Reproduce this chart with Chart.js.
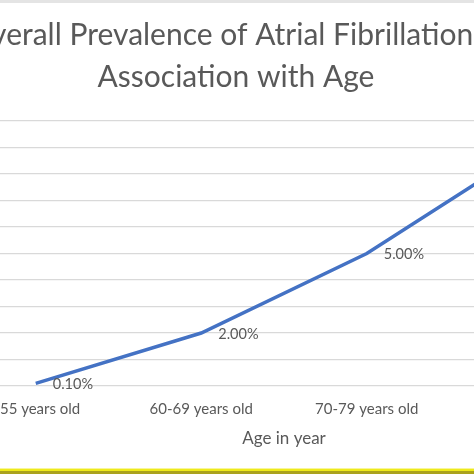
<!DOCTYPE html>
<html>
<head>
<meta charset="utf-8">
<script src="https://cdn.jsdelivr.net/npm/chart.js@4/dist/chart.umd.min.js"></script>
<style>
  html, body { margin: 0; padding: 0; background: #fff; overflow: hidden; }
  #wrap { position: relative; width: 474px; height: 474px; overflow: hidden; }
  #afChart { position: absolute; left: -143px; top: 0; }
  .topband { position: absolute; left: 0; top: 0; width: 474px; height: 3px; background: #e4e4e4; }
  .bot1 { position: absolute; left: 0; top: 468px; width: 474px; height: 1px; background: #f7f59a; }
  .bot2 { position: absolute; left: 0; top: 469px; width: 474px; height: 2px; background: #eeea1c; }
  .bot3 { position: absolute; left: 0; top: 471px; width: 474px; height: 3px; background: #aaa21e; }
</style>
</head>
<body>
<div id="wrap">
  <canvas id="afChart" width="768" height="474"></canvas>
  <div class="topband"></div>
  <div class="bot1"></div><div class="bot2"></div><div class="bot3"></div>
</div>
<script>
// --- datos del gráfico ---
const ageGroups = ['<55 years old', '60-69 years old', '70-79 years old', '\u226580 years old'];
const prevalence = [0.1, 2.0, 5.0, 9.0];
const yTicks = [0, 1, 2, 3, 4, 5, 6, 7, 8, 9, 10];

const chartTitle = ['Overall Prevalence of Atrial Fibrillation in', 'Association with Age'];
const xTitle = 'Age in year';

const textGrey = '#595959';
const FONT = 'Lato';

// etiquetas de datos a la derecha de cada punto
const dataLabels = {
    id: 'dataLabels',
    afterDatasetsDraw(chart) {
        const ctx = chart.ctx;
        const meta = chart.getDatasetMeta(0);
        ctx.save();
        ctx.font = '14.5px ' + FONT;
        ctx.fillStyle = textGrey;
        ctx.textAlign = 'left';
        ctx.textBaseline = 'middle';
        meta.data.forEach((pt, i) => {
            ctx.fillText(prevalence[i].toFixed(2) + '%', pt.x + 17, pt.y + 1);
        });
        ctx.restore();
    }
};

Chart.defaults.font.family = FONT;
Chart.defaults.color = textGrey;

new Chart(document.getElementById('afChart').getContext('2d'), {
    type: 'line',
    data: {
        labels: ageGroups,
        datasets: [{
            data: prevalence,
            borderColor: '#4472C4',
            borderWidth: 3.5,
            pointRadius: 0,
            tension: 0,
            fill: false
        }]
    },
    options: {
        responsive: false,
        animation: false,
        devicePixelRatio: 1,
        layout: { padding: { left: 0, right: 10, top: 0, bottom: 0 } },
        plugins: {
            legend: { display: false },
            tooltip: { enabled: false },
            title: {
                display: true,
                text: chartTitle,
                color: textGrey,
                font: { size: 30, weight: 'normal', lineHeight: 1.4 },
                padding: { top: 14, bottom: 23 }
            }
        },
        scales: {
            x: {
                offset: true,
                grid: { display: false, drawTicks: false },
                border: { display: false },
                ticks: { font: { size: 15 }, color: textGrey, padding: 14, maxRotation: 0 },
                title: { display: true, text: xTitle, color: textGrey, font: { size: 17 }, padding: { top: 0, bottom: 25 } },
                afterFit(s) { s.height = 88; }
            },
            y: {
                min: 0,
                max: 10,
                afterBuildTicks(s) { s.ticks = yTicks.map(v => ({ value: v })); },
                grid: { color: '#d9d9d9', lineWidth: 1.3, drawTicks: false },
                border: { display: false },
                ticks: { display: false },
                afterFit(s) { s.width = 96; }
            }
        }
    },
    plugins: [dataLabels]
});
</script>
</body>
</html>
